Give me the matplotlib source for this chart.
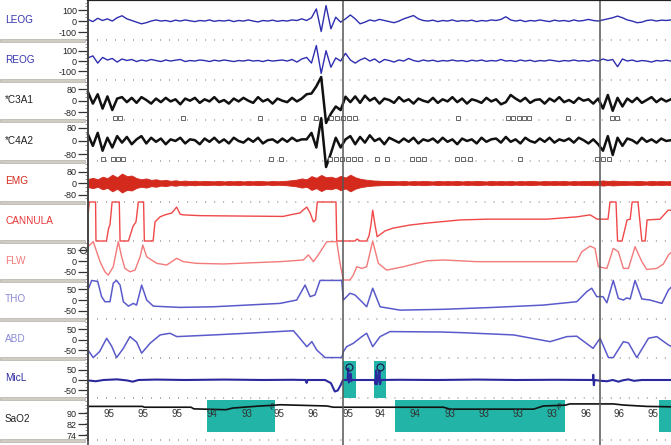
import numpy as np
import matplotlib
matplotlib.use("Agg")
import matplotlib.pyplot as plt
from matplotlib.patches import Rectangle
from matplotlib.lines import Line2D
from matplotlib.ticker import FixedLocator, MultipleLocator, NullLocator

plt.rcParams['font.family'] = ['Liberation Sans', 'DejaVu Sans']
plt.rcParams['axes.unicode_minus'] = False

# ---------------- data (time in s, amplitudes in channel units) ----------------
EPOCH = 30.0
STEP = 0.25   # spacing of the EOG / EEG / EMG samples below

leog = [15, -5, 25, 5, 20, 0, 30, 48, 20, 5,
        -10, -25, -15, 0, 10, 0, 5, -5, 8, 0,
        10, 2, -5, 5, 0, 10, -3, 5, 0, 8,
        -5, 5, 0, 10, 0, -8, 5, 0, 8, -3,
        5, 0, 10, 5, 20, 5, 30, 110, -95, 140,
        -70, 35, -10, 20, 55, 20, -25, -10, 10, 0,
        15, 5, -5, -15, 0, 20, 35, 50, 20, 5,
        0, 8, -5, 5, 0, 10, -3, 5, 0, 8,
        -5, 5, 0, 10, 5, 15, 39, 10, 0, 8,
        -5, 5, 0, 10, 2, -5, 8, 0, 5, -3,
        10, 0, 5, 15, 5, 0, 10, 20, 30, 45,
        30, 10, 0, -15, -10, 5, 10, 0, 8, 5,
        10]
reog = [30, 50, -20, 35, 10, 25, -10, 20, 5, 15,
        -5, 10, 0, 15, 5, -5, 10, 0, 8, 15,
        -5, 5, 0, 10, 5, -5, 8, 0, 10, 3,
        -5, 5, 0, 10, 0, 5, -5, 8, 0, 5,
        10, 0, 15, -10, 20, 35, -20, 150, -120, 100,
        -60, 30, 0, 75, 10, -20, 10, 30, 0, 20,
        -15, 15, 5, -10, 10, 0, 25, 5, -5, 10,
        0, 8, -5, 5, 0, 10, 0, 5, -5, 8,
        0, 10, -3, 5, 0, 15, 0, 5, -5, 10,
        0, 8, -5, 5, 0, 10, 3, -5, 5, 0,
        10, 0, 5, -3, 10, 0, 20, 5, 15, -55,
        20, 0, 10, -5, 5, 0, -10, 5, 0, 8,
        0]
c3a1 = [60, -20, 45, -55, 30, -65, 15, 25, -10, 20,
        -15, 25, 5, -20, 15, -10, 20, -5, 10, -25,
        15, 0, 20, -15, 10, -5, 25, -10, 5, -20,
        15, -5, 20, 0, -15, 25, -5, 10, -20, 15,
        0, -10, 20, -5, 15, 45, 50, 100, 165, -155,
        -90, -40, -65, 28, -10, 30, -15, 35, 0, 20,
        -20, 15, 5, -15, 25, -5, 10, -20, 15, 0,
        -10, 20, -15, 10, -5, 25, -10, 15, -20, 10,
        0, -15, 20, -5, 10, -25, -10, 40, 15, -5,
        20, -15, 5, 10, -20, 15, -5, 25, -10, 5,
        -15, 20, 0, 10, -20, 15, -55, 40, -70, 20,
        -40, 15, -10, 20, -15, 5, 25, -10, 15, -5,
        10]
c4a2 = [40, -30, 50, -60, 20, -40, 30, -10, 25, -20,
        10, 30, -15, 20, -5, 15, -20, 10, 0, 20,
        -15, 10, 5, -20, 15, -5, 20, -10, 10, -15,
        20, 0, -10, 15, -5, 20, -15, 5, 10, -10,
        15, -5, 20, 0, 10, 10, 50, -40, 140, -160,
        -75, 20, -40, 10, 30, -20, 25, -10, 35, 0,
        15, -20, 20, 5, -10, 15, -5, 20, -15, 10,
        0, 15, -10, 20, -5, 10, -20, 15, 0, 10,
        -15, 20, -5, 10, 15, -10, 25, -5, 10, -15,
        20, 0, -10, 15, -5, 20, -10, 10, 0, 15,
        -10, 20, 5, -15, 10, -20, -60, 30, -86, 20,
        -30, 15, 5, -15, 20, -5, 10, -10, 15, 0,
        5]
emg_amp = [28, 36, 26, 44, 34, 58, 40, 66, 48, 52,
           34, 26, 32, 22, 26, 18, 22, 15, 19, 14,
           17, 13, 16, 12, 15, 13, 12, 15, 11, 14,
           12, 15, 11, 14, 12, 15, 13, 11, 15, 12,
           14, 16, 20, 24, 32, 26, 48, 36, 56, 40,
           44, 34, 50, 38, 58, 40, 30, 24, 20, 17,
           16, 14, 15, 13, 12, 15, 11, 14, 12, 15,
           13, 11, 15, 12, 14, 12, 15, 11, 14, 12,
           15, 13, 11, 15, 12, 14, 12, 15, 11, 14,
           12, 15, 13, 11, 15, 12, 14, 12, 15, 11,
           14, 12, 15, 13, 16, 14, 18, 14, 17, 15,
           14, 13, 12, 15, 13, 11, 15, 12, 14, 12,
           14]

# scored EEG event marks (s)
c3a1_marks = [1.39, 1.65, 4.89, 8.85, 11.07, 11.73, 12.51, 12.82, 13.12, 13.43, 13.74,
              19.04, 21.62, 21.87, 22.18, 22.44, 22.7, 24.7, 26.97, 27.22]
c4a2_marks = [0.77, 1.29, 1.54, 1.8, 9.42, 9.93, 12.45, 12.76, 13.07, 13.38, 13.69, 14.0,
              14.87, 15.39, 16.68, 16.98, 17.29, 18.99, 19.3, 19.66, 22.23, 26.2, 26.5, 26.81]

cannula_t = [0.0, 0.07, 0.39, 0.41, 0.95, 1.06, 1.13, 1.24, 1.61, 1.65, 2.08, 2.32, 2.47, 2.59,
             2.86, 2.9, 3.35, 3.45, 3.71, 3.96, 4.32, 4.56, 4.74, 4.89, 5.76, 7.83, 10.04, 10.4,
             10.91, 11.06, 11.26, 11.43, 11.6, 11.71, 11.8, 12.76, 12.8, 13.74, 13.84, 14.0, 14.34,
             14.46, 14.56, 14.65, 14.77, 14.88, 15.29, 15.7, 16.57, 17.45, 19.15, 20.54, 23.62,
             25.17, 25.84, 26.2, 26.76, 26.86, 27.17, 27.25, 27.48, 27.74, 27.9, 28.0, 28.3, 28.5,
             28.67, 28.77, 29.44, 29.85, 30.0]
cannula_v = [67, 100, 100, 0, 0, 33, 41, 100, 100, 0, 0, 38, 49, 100,
             100, 0, 0, 49, 62, 67, 72, 87, 69, 67, 65, 64, 63, 67,
             72, 79, 87, 72, 49, 54, 100, 100, 0, 0, 5, 0, 0,
             13, 41, 79, 41, 11, 26, 33, 41, 46, 54, 56, 56,
             62, 67, 56, 56, 100, 100, 0, 0, 54, 56, 100, 100, 0,
             0, 54, 56, 79, 79]

flw_t = [0.0, 0.27, 0.62, 0.87, 1.04, 1.3, 1.56, 1.73, 1.9, 2.16, 2.42, 2.68, 2.82, 3.02, 3.54,
         4.05, 4.57, 4.9, 5.59, 6.96, 8.51, 9.88, 11.08, 11.34, 11.6, 11.85, 12.29, 12.8, 12.97,
         13.14, 13.48, 13.65, 13.83, 14.09, 14.34, 14.65, 14.94, 15.37, 16.23, 17.43, 18.29, 20.0,
         22.58, 25.15, 25.41, 25.84, 26.09, 26.26, 26.7, 27.03, 27.29, 27.55, 27.81, 28.15, 28.5,
         28.75, 29.27, 29.61, 29.87, 30.0]
flw_v = [68, 92, -3, -51, -67, -27, 92, 20, -35, -51, -43, 20, 76, 20, -11,
         -19, 13, -3, -11, -14, -8, -3, 5, 29, -3, 29, 92, 92, -11,
         -90, -90, -67, -27, -35, -27, 95, -11, -43, -27, 1, 5, -3,
         -3, -3, 44, 71, 60, -27, -35, 60, 44, -35, -35, 68, -3,
         -40, -35, -14, 29, 40]

tho_t = [0.0, 0.19, 0.5, 0.7, 0.87, 1.13, 1.3, 1.47, 1.65, 1.82, 2.08, 2.33, 2.5, 2.76, 3.02,
         3.36, 4.73, 6.45, 8.17, 9.88, 10.74, 11.17, 11.43, 11.68, 11.94, 13.06, 13.14, 13.48,
         13.74, 14.09, 14.34, 14.65, 15.03, 16.06, 18.29, 20.86, 23.43, 25.15, 25.67, 25.92,
         26.18, 26.5, 26.7, 27.03, 27.29, 27.55, 27.72, 27.9, 28.15, 28.5, 28.92, 29.53, 29.87, 30.0]
tho_v = [48, 93, 88, 16, -8, -8, 80, 93, 71, -8, -29, -16, -24, 71, 0,
         -29, -35, -32, -24, -16, 0, 71, 16, 24, 93, 93, 0, 32,
         24, -8, -32, 56, -32, -48, -44, -35, -24, -8, 40, 56,
         16, 16, -13, 93, 8, 0, 10, 5, 93, 5, 0, -16, 48, 60]

abd_t = [0.0, 0.27, 0.6, 0.96, 1.22, 1.47, 1.82, 2.16, 2.5, 2.76, 3.19, 3.71, 4.22, 4.57, 6.45,
         8.17, 10.57, 10.83, 11.26, 11.52, 11.77, 12.2, 13.06, 13.14, 13.31, 13.65, 14.09, 14.34,
         14.65, 15.03, 15.54, 18.15, 19.2, 21.9, 23.78, 24.64, 25.15, 25.99, 26.35, 26.78, 27.03,
         27.55, 27.81, 28.24, 28.84, 29.27, 29.87, 30.0]
abd_v = [-48, -84, -55, 8, -30, -84, -40, 16, -10, -63, -16, 24, 32, 16, 24,
         32, 44, 16, -32, -8, -48, -84, -84, -56, -32, -16, 16, 32,
         -32, 16, 40, 38, 35, 24, -8, 16, 18, -40, 8, -84, -84,
         -8, -14, -84, 8, 16, -24, -30]

micl_t = [0.0, 0.4, 0.8, 1.5, 2.0, 2.3, 2.6, 3.5, 5.0, 7.0, 9.0, 10.5, 11.2, 11.25, 11.3,
          12.2, 12.5, 12.7, 12.85, 13.0, 13.12, 13.36, 13.39, 13.42, 13.46, 13.52, 13.55, 13.6,
          14.75, 14.8, 14.83, 14.87, 14.92, 15.0, 15.03, 15.08, 16.0, 18.0, 20.0, 22.0, 24.0,
          25.98, 26.0, 26.03, 26.06, 26.4, 26.7, 27.0, 27.3, 27.5, 27.8, 28.1, 28.5, 30.0]
micl_v = [-2, -6, 0, 3, -2, -8, 0, 2, 0, 2, 0, 1, 0, -14, 0,
          0, -15, -55, -50, -25, 0, 0, 55, -12, 0, 30, -5, 0,
          0, -20, 45, -20, 0, 45, -20, 0, 1, 0, 2, 0, 1,
          0, 25, -25, 0, -4, -6, 0, -8, -2, 3, -4, 0, 0]
snore_events = [(13.12, 13.79), (14.72, 15.34)]

spo2_t = [0.0, 2.8, 2.9, 5.3, 5.45, 7.1, 7.45, 8.85, 9.55, 9.88, 12.29, 12.63, 18.29, 18.63,
          22.93, 23.43, 24.55, 24.8, 27.03, 27.55, 28.75, 30.0]
spo2_v = [94.8, 94.8, 94.2, 94.2, 93.0, 92.4, 93.6, 95.1, 95.6, 96.0, 95.1, 94.2, 94.2, 92.8,
          92.8, 95.1, 95.7, 96.6, 96.6, 95.8, 94.8, 94.5]
spo2_label_t = [1.08, 2.83, 4.58, 6.38, 8.18, 9.83, 11.58, 13.38, 15.03, 16.83, 18.63,
                20.38, 22.13, 23.88, 25.63, 27.33, 29.08]
spo2_label_v = [95, 95, 95, 94, 93, 95, 96, 95, 94, 94, 93, 93, 93, 93, 96, 96, 95]
spo2_flag_t = [9.47, 24.24]
desat_events = [(6.12, 9.62), (15.8, 24.55), (29.39, 30.0)]

cursor_t = [13.12, 26.35]

# ---------------- layout ----------------
W, H = 671, 445
X0 = 88
ROW_EDGES = [0, 40, 80, 120, 161, 202, 241, 280, 319, 358, 398, 440]
TEAL = '#22b4a6'

# name, label colour, ylim, major ticks, minor step
channels = [
    ('LEOG', '#3535b0', (-172, 191), [-100, 0, 100], 100 / 3),
    ('REOG', '#3535b0', (-184, 204), [-100, 0, 100], 100 / 3),
    ('*C3A1', '#222222', (-134, 144), [-80, 0, 80], 80 / 3),
    ('*C4A2', '#222222', (-123, 129), [-80, 0, 80], 80 / 3),
    ('EMG', '#d42a1e', (-132, 153), [-80, 0, 80], 80 / 3),
    ('CANNULA', '#e83434', (0, 100), [], None),
    ('FLW', '#f07a7a', (-90, 95), [-50, 0, 50], 50 / 3),
    ('THO', '#8a8ad8', (-90, 95), [-50, 0, 50], 50 / 3),
    ('ABD', '#8a8ad8', (-86, 100), [-50, 0, 50], 50 / 3),
    ('MicL', '#2a2aa0', (-86, 105), [-50, 0, 50], 50 / 3),
    ('SaO2', '#222222', (70.4, 100.9), [74, 82, 90], 8 / 3),
]

fig = plt.figure(figsize=(W / 100, H / 100), dpi=100)

# dotted row separators behind the traces
back = fig.add_axes([X0 / W, 0, (W - X0) / W, 1])
back.set_xlim(0, EPOCH)
back.set_ylim(H, 0)
back.axis('off')
for e in ROW_EDGES[1:]:
    back.axhline(e, color='#8f8f8f', lw=1.1, ls=(0, (0.6, 5.3)))

ax = {}
for k, (name, lcol, ylim, ticks, minor) in enumerate(channels):
    top, bot = ROW_EDGES[k], ROW_EDGES[k + 1]
    a = fig.add_axes([X0 / W, 1 - bot / H, (W - X0) / W, (bot - top) / H])
    a.set_facecolor('none')
    a.set_xlim(0, EPOCH)
    a.set_ylim(*ylim)
    a.set_xticks([])
    for s in ('top', 'right', 'bottom'):
        a.spines[s].set_visible(False)
    a.spines['left'].set_color('#444444')
    a.spines['left'].set_linewidth(1.2)
    if ticks:
        a.yaxis.set_major_locator(FixedLocator(ticks))
        a.yaxis.set_minor_locator(MultipleLocator(minor))
    else:
        a.yaxis.set_major_locator(NullLocator())
        a.yaxis.set_minor_locator(NullLocator())
    a.tick_params(axis='y', which='major', length=7, width=0.9, color='#333333',
                  labelsize=6.5, pad=1, labelcolor='#222222')
    a.tick_params(axis='y', which='minor', length=2.5, width=0.7, color='#999999')
    fig.text(5 / W, 1 - (top + bot) / 2 / H, name, ha='left', va='center',
             fontsize=7.2, color=lcol)
    ax[name] = a

# label-panel separators
for e in ROW_EDGES[1:]:
    fig.add_artist(Rectangle((0, 1 - (e + 1.5) / H), 85 / W, 3 / H, transform=fig.transFigure,
                             facecolor='#d0ccc4', edgecolor='#a8a49c', lw=0.4))
fig.add_artist(Line2D([83 / W], [1 - 250 / H], marker='o', mfc='none', mec='#444444',
                      ms=4.5, mew=0.8, transform=fig.transFigure))

# traces
eeg_t = np.arange(len(leog)) * STEP
ax['LEOG'].plot(eeg_t, leog, color='#2e2eb0', lw=1.0, clip_on=False)
ax['REOG'].plot(eeg_t, reog, color='#2e2eb0', lw=1.0, clip_on=False)
ax['*C3A1'].plot(eeg_t, c3a1, color='#111111', lw=1.8, clip_on=False)
ax['*C4A2'].plot(eeg_t, c4a2, color='#111111', lw=1.8, clip_on=False)
amp = np.array(emg_amp)
ax['EMG'].fill_between(eeg_t, -amp, amp, color='#d42a1e', lw=0.6, clip_on=False)

ax['*C3A1'].plot(c3a1_marks, [-120] * len(c3a1_marks), 's', ms=2.8, mfc='white',
                 mec='#505050', mew=0.6, clip_on=False)
ax['*C4A2'].plot(c4a2_marks, [-108] * len(c4a2_marks), 's', ms=2.8, mfc='white',
                 mec='#505050', mew=0.6, clip_on=False)

ax['CANNULA'].plot(cannula_t, cannula_v, color='#f04848', lw=1.0, clip_on=False)
ax['FLW'].plot(flw_t, flw_v, color='#f37a7a', lw=1.0, clip_on=False)
ax['THO'].plot(tho_t, tho_v, color='#5a5acb', lw=1.1, clip_on=False)
ax['ABD'].plot(abd_t, abd_v, color='#5a5acb', lw=1.1, clip_on=False)

for t0, t1 in snore_events:
    ax['MicL'].add_patch(Rectangle((t0, -86), t1 - t0, 176, facecolor=TEAL,
                                   edgecolor='none', zorder=0.5))
ax['MicL'].plot(micl_t, micl_v, color='#2a2a9e', lw=1.5, clip_on=False)
icon_t = [(t0 + t1) / 2 for t0, t1 in snore_events]
ax['MicL'].plot(icon_t, [62] * len(icon_t), 'o', mfc='none', mec='#1c1c55', ms=5, mew=0.9)

for t0, t1 in desat_events:
    ax['SaO2'].add_patch(Rectangle((t0, 76.2), t1 - t0, 23.2, facecolor=TEAL,
                                   edgecolor='none', zorder=0.5))
ax['SaO2'].plot(spo2_t, spo2_v, color='#111111', lw=1.2, clip_on=False)
for t, v in zip(spo2_label_t, spo2_label_v):
    ax['SaO2'].text(t, 89.5, str(v), ha='center', va='center', fontsize=7, color='#333333')
for t in spo2_flag_t:
    ax['SaO2'].text(t, 95, '(!', ha='center', va='center', fontsize=6, color='#222222')

# cursors and frame on top
front = fig.add_axes([X0 / W, 0, (W - X0) / W, 1])
front.patch.set_alpha(0)
front.set_xlim(0, EPOCH)
front.set_ylim(0, 1)
front.set_xticks([])
front.set_yticks([])
for s in ('right', 'bottom'):
    front.spines[s].set_visible(False)
front.spines['left'].set_color('#444444')
front.spines['left'].set_linewidth(1.2)
front.spines['top'].set_color('#222222')
front.spines['top'].set_linewidth(1.6)
for t in cursor_t:
    front.axvline(t, color='#555555', lw=1.1)

fig.savefig('out.png', dpi=100)
